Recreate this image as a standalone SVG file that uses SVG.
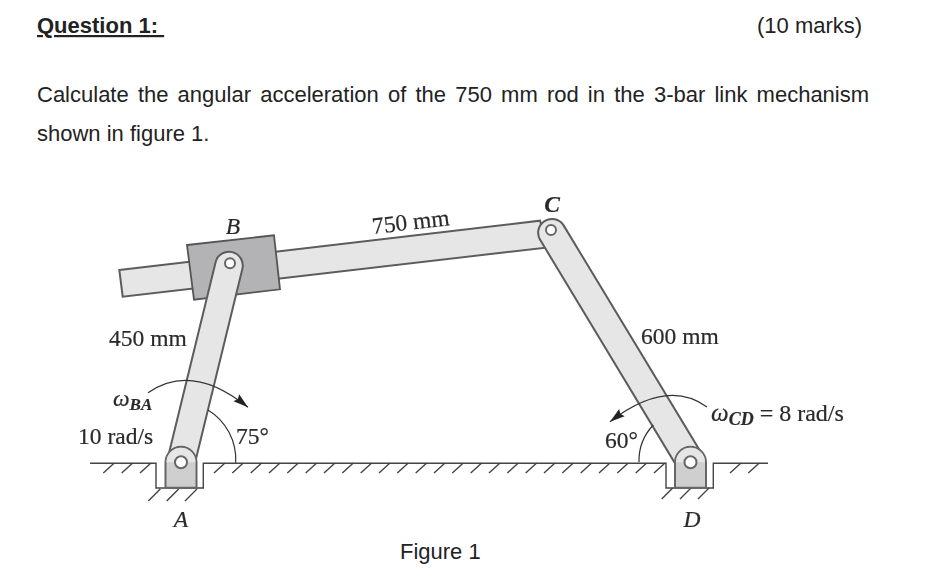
<svg xmlns="http://www.w3.org/2000/svg" width="933" height="581" viewBox="0 0 933 581">
<style>
.s{font-family:"Liberation Sans",Arial,sans-serif;font-size:22px;fill:#222}
.f{font-family:"Liberation Serif","Times New Roman",serif;font-size:23.5px;fill:#2a2a2a;stroke:#2a2a2a;stroke-width:.2}
.i{font-style:italic}
.lk{fill:#e6e6e6;stroke:#5c5c5c;stroke-width:2}
.cl{fill:#cfcfcf;stroke:#666;stroke-width:2}
.pin{fill:#fff;stroke:#666;stroke-width:2}
.g{fill:none;stroke:#444;stroke-width:1.4}
.a{fill:none;stroke:#333;stroke-width:1.2}
</style>
<defs>
<marker id="ah" markerUnits="userSpaceOnUse" markerWidth="16" markerHeight="12" refX="15" refY="5" orient="auto"><path d="M0 .5L15 5L0 9.5L2 5Z" fill="#222"/></marker>
<filter id="soft" x="0" y="0" width="100%" height="100%"><feGaussianBlur stdDeviation="0.4"/></filter>
</defs>
<rect width="933" height="581" fill="#fff"/>
<text class="s" x="37" y="33" font-weight="bold" text-decoration="underline">Question 1:&#160;</text>
<text class="s" x="757" y="33">(10 marks)</text>
<text class="s" x="37" y="102" word-spacing="3.05">Calculate the angular acceleration of the 750 mm rod in the 3-bar link mechanism</text>
<text class="s" x="37" y="141">shown in figure 1.</text>
<g filter="url(#soft)">
<g id="ground"><path class="g" d="M90 463.3H156V488H203.3V463.3H666V488H713.3V463.3H768"/>
<path class="g" d="M103.3 473l11-10M121.7 473l11-10M140 473l11-10M214 473l11-10M232.3 473l11-10M250.7 473l11-10M269 473l11-10M287.3 473l11-10M305.7 473l11-10M324 473l11-10M342.3 473l11-10M360.7 473l11-10M379 473l11-10M397.3 473l11-10M415.7 473l11-10M434 473l11-10M452.3 473l11-10M470.7 473l11-10M489 473l11-10M507.3 473l11-10M525.7 473l11-10M544 473l11-10M562.3 473l11-10M580.7 473l11-10M599 473l11-10M617.3 473l11-10M635.7 473l11-10M654 473l11-10M730 473l11-10M748.3 473l11-10M148.3 501l12-12M166.7 501l12-12M185 501l12-12M661.7 499l11-11M680 499l11-11M698 499l11-11"/></g>
<g id="rod"><path class="lk" d="M119.3 270L540 220.7L548 247.4L122.7 296.7Z"/></g>
<g id="block-B"><path d="M187 245L274 235.3L280 289.3L194 299.7Z" fill="#b3b3b5" stroke="#555" stroke-width="1.8"/></g>
<g id="link-AB"><path class="lk" d="M167.6 458.7L215.6 262.2A13.8 13.8 0 0 1 242.4 268.8L194.4 465.3Z"/><circle class="pin" cx="230" cy="263.3" r="5"/></g>
<g id="link-CD"><path class="lk" d="M539.7 239.1A13.8 13.8 0 0 1 563.3 224.9L702.5 454.9L678.5 469.1Z"/><circle class="pin" cx="551" cy="230" r="5"/></g>
<g id="support-A"><path class="cl" d="M165.5 487.7V462.3A15.5 15.5 0 0 1 196.5 462.3V487.7Z"/><path d="M166.5 462.3A14.5 14.5 0 0 1 195.5 462.3Z" fill="#e6e6e6"/><circle class="pin" cx="181" cy="462.3" r="6"/></g>
<g id="support-D"><path class="cl" d="M675 487.7V462.3A15.5 15.5 0 0 1 706 462.3V487.7Z"/><path d="M676 462.3A14.5 14.5 0 0 1 705 462.3Z" fill="#e6e6e6"/><circle class="pin" cx="690.5" cy="462.3" r="6"/></g>
<g id="connectors">
<path class="a" d="M148 392.7Q192 362 248 407.3" marker-end="url(#ah)"/>
<path class="a" d="M707 407Q667 378 610 421.7" marker-end="url(#ah)"/>
<path class="a" d="M208 410A58 58 0 0 1 235.7 462.7"/>
<path class="a" d="M653.3 425A52 52 0 0 0 639 462.3"/>
</g>
<g id="labels">
<text class="f i" x="233" y="234" text-anchor="middle">B</text>
<text class="f i" x="552" y="212" text-anchor="middle" font-weight="bold">C</text>
<text class="f i" x="181" y="527" text-anchor="middle">A</text>
<text class="f i" x="692" y="527" text-anchor="middle">D</text>
<text class="f" x="373" y="234" transform="rotate(-6.5 373 234)">750 mm</text>
<text class="f" x="109" y="346">450 mm</text>
<text class="f" x="641" y="344">600 mm</text>
<text class="f" x="78" y="444">10 rad/s</text>
<text class="f" x="236" y="444">75°</text>
<text class="f" x="605" y="448">60°</text>
<text class="f i" x="113" y="406" font-size="25">ω<tspan font-size="17" dy="4" font-weight="bold">BA</tspan></text>
<text class="f" x="711" y="421"><tspan class="i" font-size="25">ω</tspan><tspan class="i" font-size="18" dy="4" font-weight="bold">CD</tspan><tspan dy="-4" font-size="24"> = 8 rad/s</tspan></text>
</g>
</g>
<text class="s" x="400" y="559">Figure 1</text>
</svg>
